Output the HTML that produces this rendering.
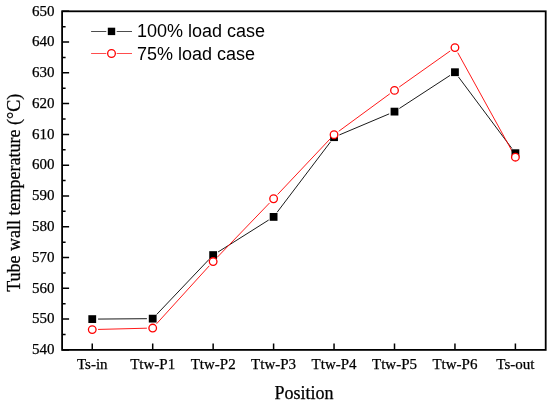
<!DOCTYPE html><html><head><meta charset="utf-8"><style>html,body{margin:0;padding:0;background:#fff;}svg{display:block;}</style></head><body>
<svg width="550" height="404" viewBox="0 0 550 404">
<rect width="550" height="404" fill="#fff"/>
<path d="M98.05 319.07L146.90 318.70M156.70 314.45L209.15 259.29M218.05 251.99L268.70 220.01M277.10 212.29L330.55 141.80M339.39 134.92L389.16 113.88M399.36 108.46L450.09 75.39M458.42 76.87L511.93 148.54" fill="none" stroke="#000" stroke-width="0.9"/>
<path d="M98.05 329.43L146.90 328.19M156.60 323.75L209.25 265.84M217.17 257.37L269.58 202.92M277.58 194.53L330.07 138.93M338.73 131.28L389.82 93.81M399.23 87.03L450.22 50.94M457.75 52.67L512.60 152.11" fill="none" stroke="#ff0000" stroke-width="0.9"/>
<rect x="88.35" y="315.21" width="7.8" height="7.8" fill="#000"/>
<rect x="148.80" y="314.75" width="7.8" height="7.8" fill="#000"/>
<rect x="209.25" y="251.18" width="7.8" height="7.8" fill="#000"/>
<rect x="269.70" y="213.01" width="7.8" height="7.8" fill="#000"/>
<rect x="330.15" y="133.28" width="7.8" height="7.8" fill="#000"/>
<rect x="390.60" y="107.72" width="7.8" height="7.8" fill="#000"/>
<rect x="451.05" y="68.32" width="7.8" height="7.8" fill="#000"/>
<rect x="511.50" y="149.28" width="7.8" height="7.8" fill="#000"/>
<circle cx="92.25" cy="329.58" r="3.8" fill="#fff" stroke="#ff0000" stroke-width="1.3"/>
<circle cx="152.70" cy="328.04" r="3.8" fill="#fff" stroke="#ff0000" stroke-width="1.3"/>
<circle cx="213.15" cy="261.55" r="3.8" fill="#fff" stroke="#ff0000" stroke-width="1.3"/>
<circle cx="273.60" cy="198.75" r="3.8" fill="#fff" stroke="#ff0000" stroke-width="1.3"/>
<circle cx="334.05" cy="134.71" r="3.8" fill="#fff" stroke="#ff0000" stroke-width="1.3"/>
<circle cx="394.50" cy="90.38" r="3.8" fill="#fff" stroke="#ff0000" stroke-width="1.3"/>
<circle cx="454.95" cy="47.59" r="3.8" fill="#fff" stroke="#ff0000" stroke-width="1.3"/>
<circle cx="515.40" cy="157.19" r="3.8" fill="#fff" stroke="#ff0000" stroke-width="1.3"/>
<rect x="62.1" y="11.3" width="483.60" height="338.60" fill="none" stroke="#000" stroke-width="1.8"/>
<path d="M62.10 349.90h7 M62.10 334.51h3.5 M62.10 319.11h7 M62.10 303.72h3.5 M62.10 288.33h7 M62.10 272.94h3.5 M62.10 257.54h7 M62.10 242.15h3.5 M62.10 226.76h7 M62.10 211.37h3.5 M62.10 195.97h7 M62.10 180.58h3.5 M62.10 165.19h7 M62.10 149.80h3.5 M62.10 134.40h7 M62.10 119.01h3.5 M62.10 103.62h7 M62.10 88.23h3.5 M62.10 72.83h7 M62.10 57.44h3.5 M62.10 42.05h7 M62.10 26.66h3.5 M62.10 11.26h7 M92.25 349.90v-6.5 M152.70 349.90v-6.5 M213.15 349.90v-6.5 M273.60 349.90v-6.5 M334.05 349.90v-6.5 M394.50 349.90v-6.5 M454.95 349.90v-6.5 M515.40 349.90v-6.5" stroke="#000" stroke-width="1.5" fill="none"/>
<g font-family="Liberation Serif, serif" font-size="15" text-anchor="end" fill="#000" stroke="#000" stroke-width="0.25">
<text x="54.5" y="354.20">540</text>
<text x="54.5" y="323.41">550</text>
<text x="54.5" y="292.63">560</text>
<text x="54.5" y="261.84">570</text>
<text x="54.5" y="231.06">580</text>
<text x="54.5" y="200.27">590</text>
<text x="54.5" y="169.49">600</text>
<text x="54.5" y="138.70">610</text>
<text x="54.5" y="107.92">620</text>
<text x="54.5" y="77.13">630</text>
<text x="54.5" y="46.35">640</text>
<text x="54.5" y="15.56">650</text>
</g>
<g font-family="Liberation Serif, serif" font-size="15" text-anchor="middle" fill="#000" stroke="#000" stroke-width="0.25">
<text x="92.25" y="368.8">Ts-in</text>
<text x="152.70" y="368.8">Ttw-P1</text>
<text x="213.15" y="368.8">Ttw-P2</text>
<text x="273.60" y="368.8">Ttw-P3</text>
<text x="334.05" y="368.8">Ttw-P4</text>
<text x="394.50" y="368.8">Ttw-P5</text>
<text x="454.95" y="368.8">Ttw-P6</text>
<text x="515.40" y="368.8">Ts-out</text>
</g>
<text x="303.90" y="398.7" font-family="Liberation Serif, serif" font-size="18" text-anchor="middle" stroke="#000" stroke-width="0.25">Position</text>
<text transform="translate(19.8 192.8) rotate(-90)" font-family="Liberation Serif, serif" font-size="18" text-anchor="middle" stroke="#000" stroke-width="0.25">Tube wall temperature (°C)</text>
<path d="M91.1 31.5H106.3M116.7 31.5H132" stroke="#000" stroke-width="0.7"/>
<rect x="107.8" y="27.7" width="7.4" height="7.4" fill="#000"/>
<path d="M91.1 53.5H106.3M116.7 53.5H132" stroke="#ff0000" stroke-width="0.7"/>
<circle cx="111.5" cy="53.5" r="3.85" fill="#fff" stroke="#ff0000" stroke-width="1.3"/>
<g font-family="Liberation Sans, Arial, sans-serif" font-size="18" fill="#000">
<text x="137.0" y="37.3">100% load case</text>
<text x="137.0" y="59.9">75% load case</text>
</g>
</svg></body></html>
